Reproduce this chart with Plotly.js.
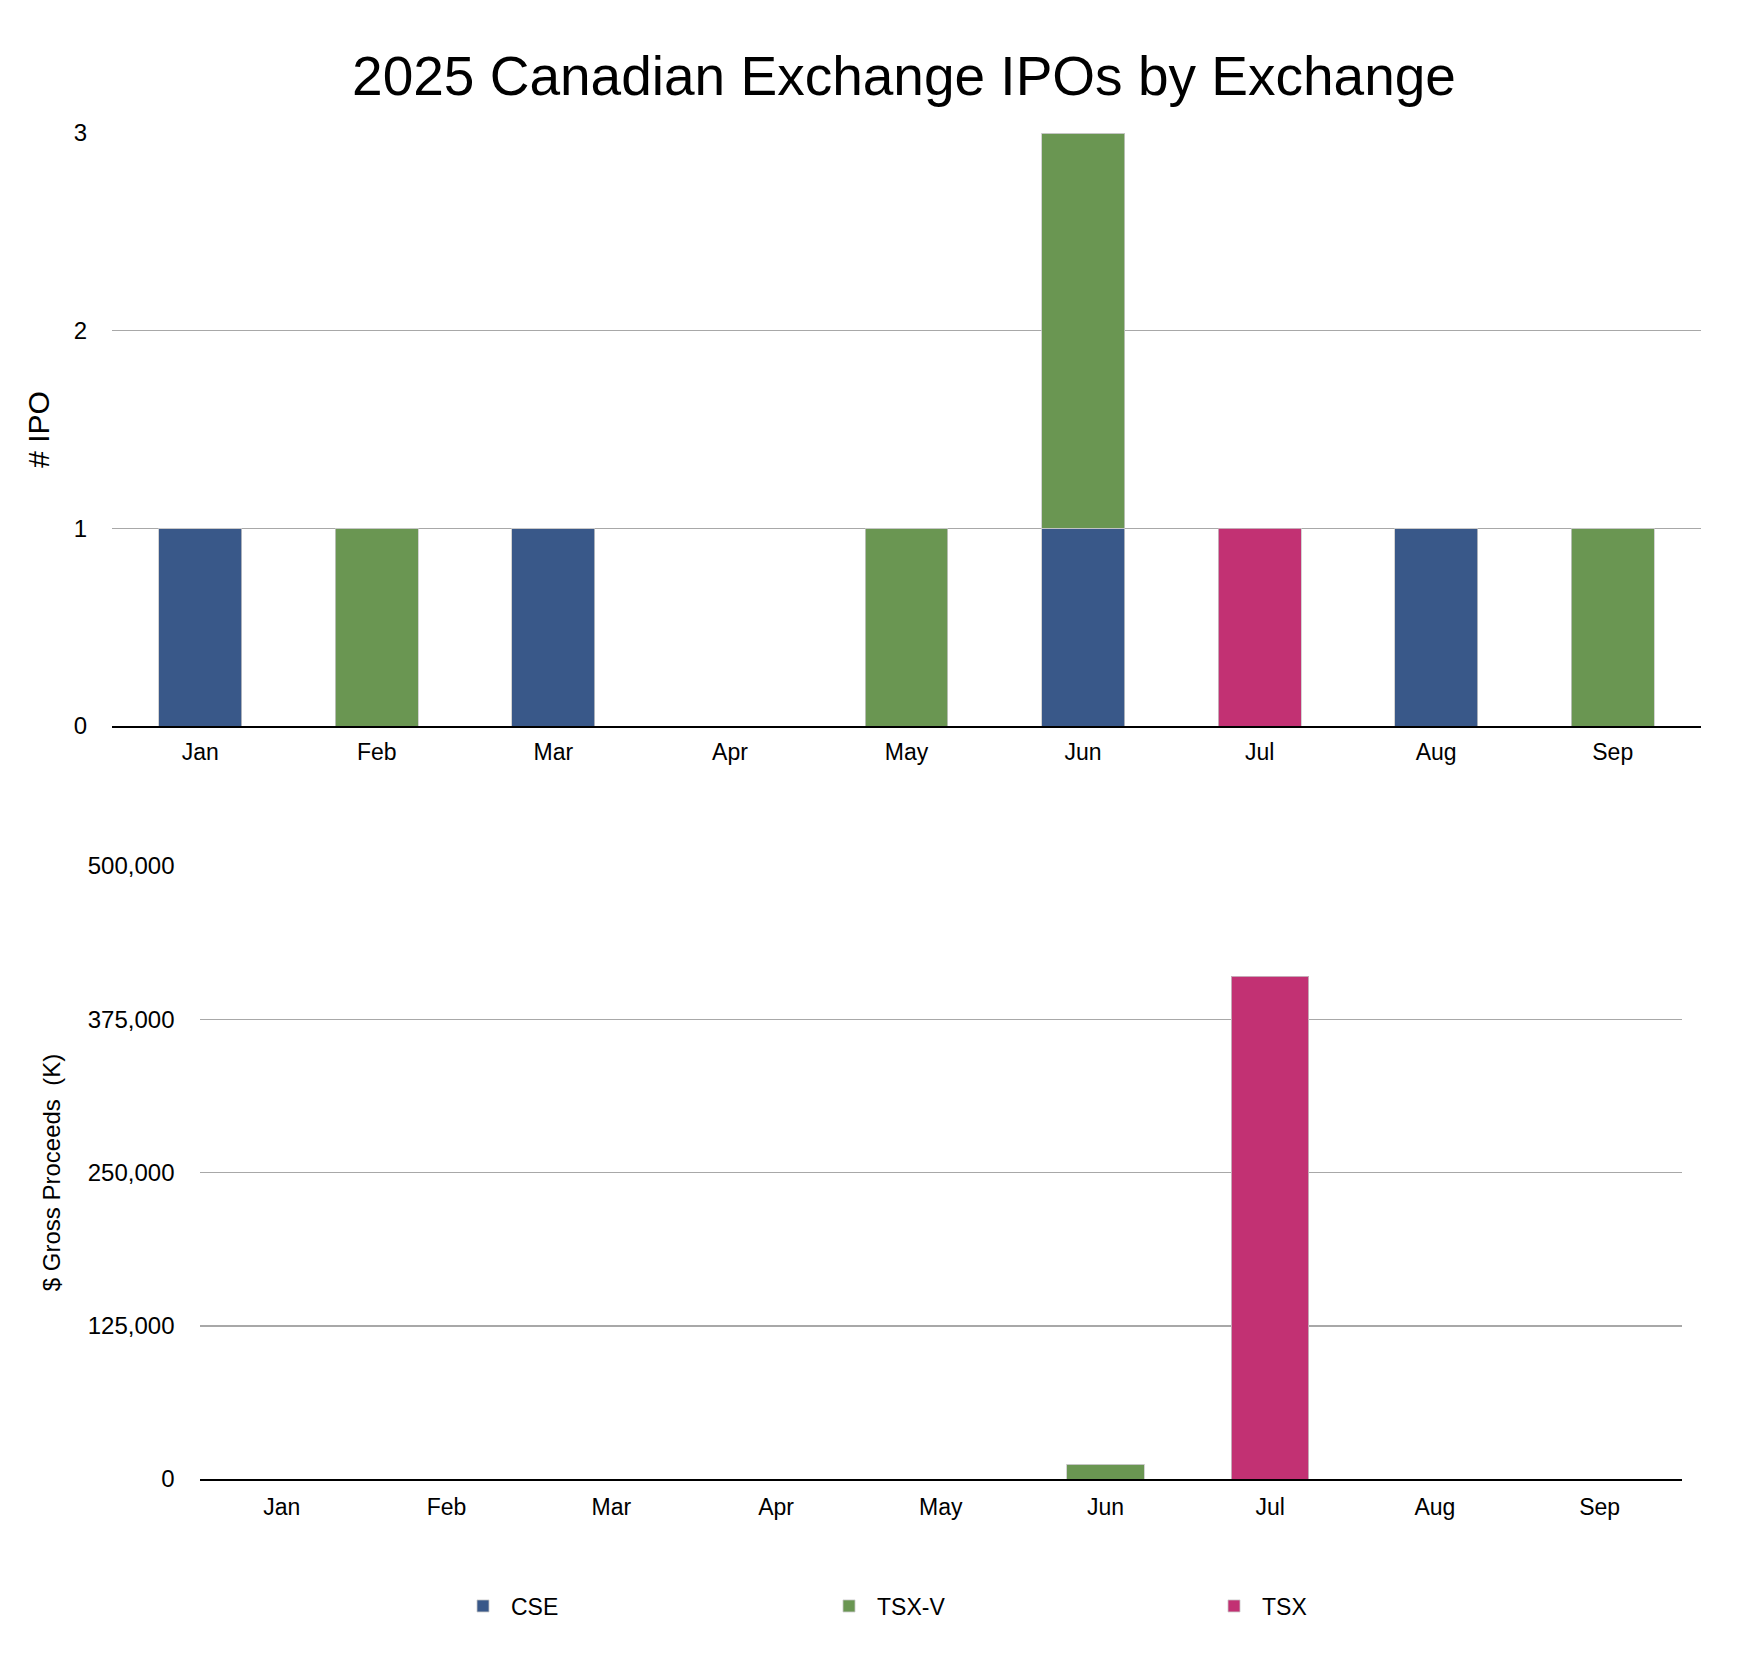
<!DOCTYPE html>
<html>
<head>
<meta charset="utf-8">
<script src="https://cdn.plot.ly/plotly-3.0.1.min.js"></script>
<style>html,body{margin:0;padding:0;background:#fff;}#chart{width:1757px;height:1658px;}</style>
</head>
<body>
<div id="chart"></div>
<script>
const months = ["Jan","Feb","Mar","Apr","May","Jun","Jul","Aug","Sep"];
const exchanges = ["CSE","TSX-V","TSX"];
const colors = ["#395889","#6a9652","#c23173"];
// # of IPOs per month
const countCSE  = [1,0,1,0,0,1,0,1,0];
const countTSXV = [0,1,0,0,1,2,0,0,1];
const countTSX  = [0,0,0,0,0,0,1,0,0];
// Gross proceeds ($K) per month
const procCSE  = [0,0,0,0,0,0,0,0,0];
const procTSXV = [0,0,0,0,0,12000,0,0,0];
const procTSX  = [0,0,0,0,0,0,410000,0,0];
const countTicks = [0,1,2,3];
const procTicks = [0,125000,250000,375000,500000];

const counts = [countCSE,countTSXV,countTSX];
const procs = [procCSE,procTSXV,procTSX];
const legendIds = ["legend","legend2","legend3"];
const FONT = "Liberation Sans, Arial, Helvetica, sans-serif";

const traces = [];
exchanges.forEach((name,i)=>{
  traces.push({type:"bar", x:months, y:counts[i], name:name, xaxis:"x", yaxis:"y",
    marker:{color:colors[i], line:{color:"rgba(200,200,200,0.8)", width:1}}, legendgroup:name,
    legend:legendIds[i], showlegend:true, hoverinfo:"x+y+name"});
});
exchanges.forEach((name,i)=>{
  traces.push({type:"bar", x:months, y:procs[i], name:name, xaxis:"x2", yaxis:"y2",
    marker:{color:colors[i], line:{color:"rgba(200,200,200,0.8)", width:1}}, legendgroup:name,
    showlegend:false, hoverinfo:"x+y+name"});
});

const H = 1658, W = 1757;
const legendX = [455, 821, 1206];
const legBase = (x)=>({orientation:"h", x:x/W, xanchor:"left", y:1-1606/H, yanchor:"middle",
    font:{size:23}, itemwidth:46, itemclick:false, bgcolor:"rgba(0,0,0,0)"});
const layout = {
  width:W, height:H,
  margin:{l:0,r:0,t:0,b:0},
  paper_bgcolor:"#fff", plot_bgcolor:"#fff",
  font:{family:FONT, size:23, color:"#000"},
  barmode:"stack",
  bargap:0.53,
  title:{text:"2025 Canadian Exchange IPOs by Exchange", font:{family:FONT,size:55,color:"#000"},
    x:904/W, xanchor:"center", y:1-76/H, yanchor:"middle", xref:"paper", yref:"paper"},
  xaxis:{domain:[112/W,1701/W], anchor:"y", type:"category", range:[-0.5,8.5],
    showline:true, linecolor:"#000", linewidth:2, showgrid:false, ticks:"", ticklabelstandoff:4,
    tickfont:{size:23}},
  yaxis:{domain:[1-726/H,1-133/H], anchor:"x", range:[0,3], tickvals:countTicks,
    showgrid:true, gridcolor:"#a8a8a8", gridwidth:1.5, zeroline:false, showline:false, ticks:"",
    ticklabelstandoff:24, tickfont:{size:24},
    title:{text:"# IPO", font:{size:30}, standoff:15}},
  xaxis2:{domain:[199.5/W,1682/W], anchor:"y2", type:"category", range:[-0.5,8.5],
    showline:true, linecolor:"#000", linewidth:2, showgrid:false, ticks:"", ticklabelstandoff:6,
    tickfont:{size:23}},
  yaxis2:{domain:[1-1479/H,1-866/H], anchor:"x2", range:[0,500000], tickvals:procTicks,
    tickformat:",d",
    showgrid:true, gridcolor:"#a8a8a8", gridwidth:1.5, zeroline:false, showline:false, ticks:"",
    ticklabelstandoff:24, tickfont:{size:24},
    title:{text:"$ Gross Proceeds  (K)", font:{size:24}, standoff:20}},
  legend:legBase(legendX[0]),
  legend2:legBase(legendX[1]),
  legend3:legBase(legendX[2]),
  showlegend:true
};
Plotly.newPlot("chart", traces, layout, {displayModeBar:false, staticPlot:true});
</script>
</body>
</html>
